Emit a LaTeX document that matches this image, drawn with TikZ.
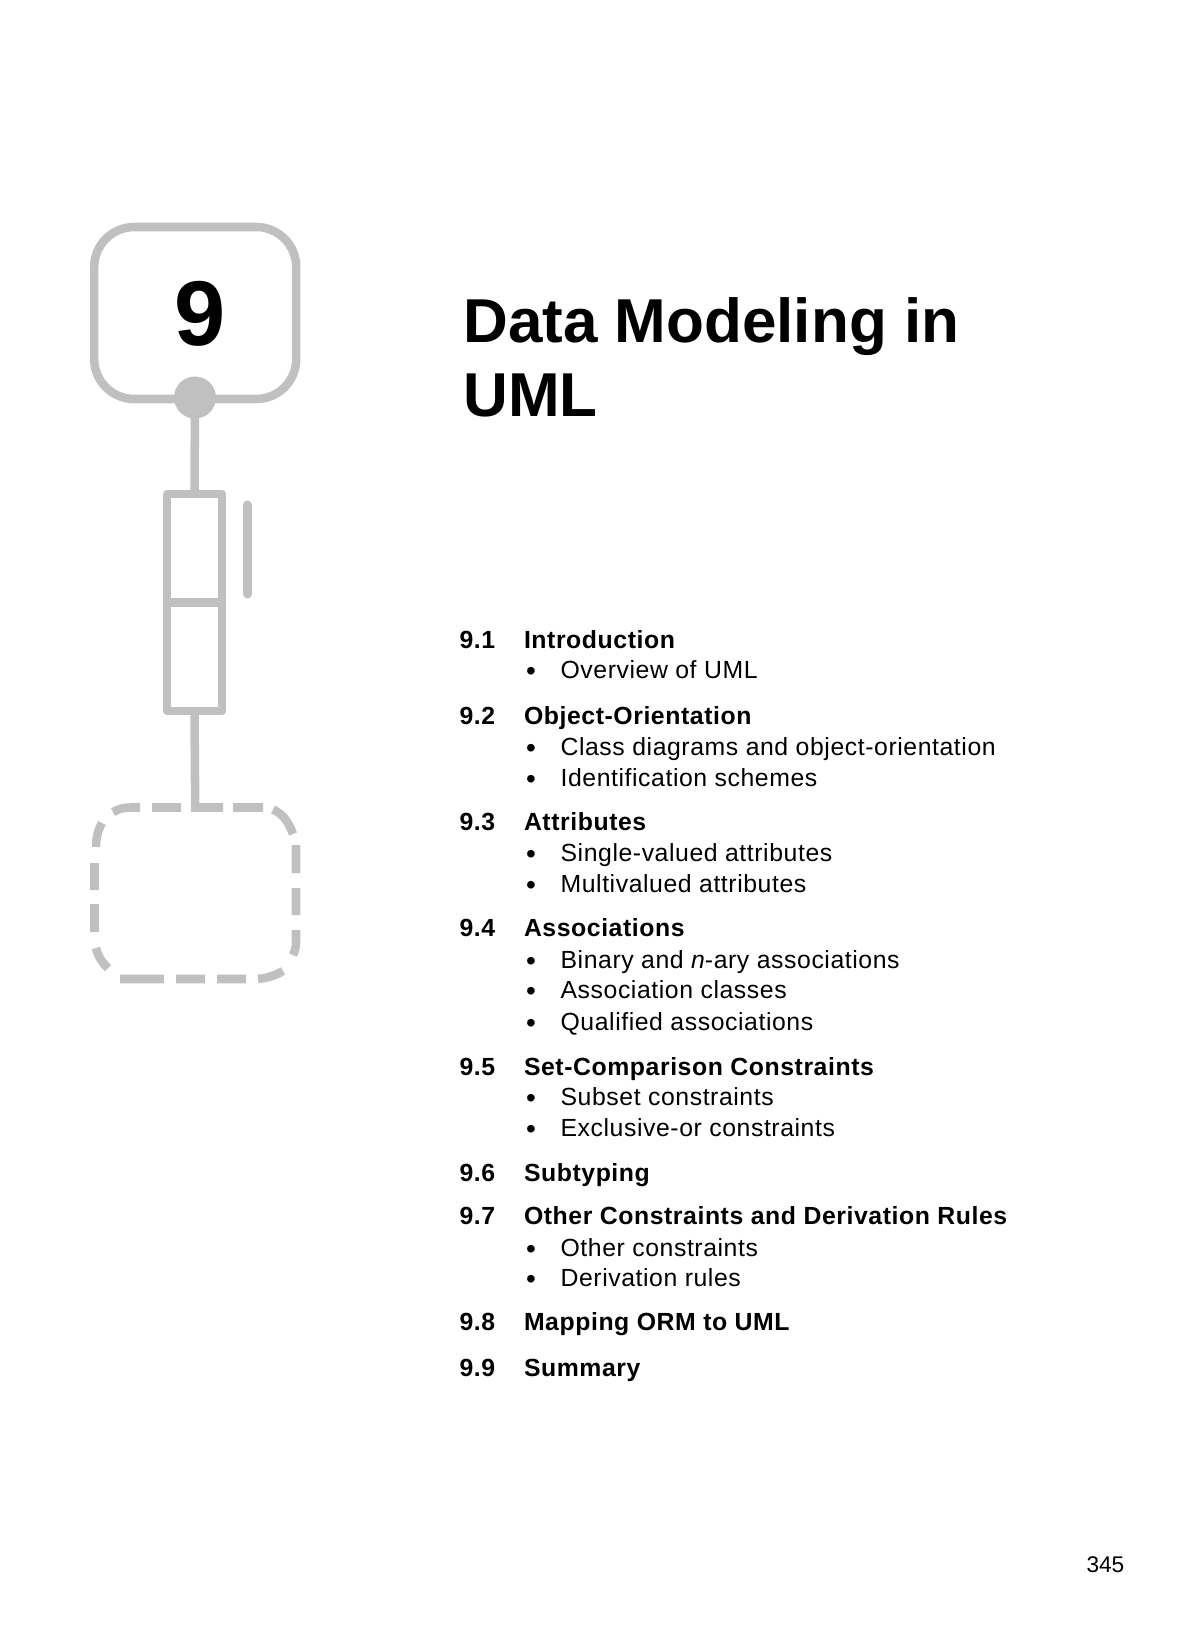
\documentclass[tikz,border=0pt]{standalone}
\usepackage{fontspec}
\setmainfont{Liberation Sans}
\newfontfamily\spaced[LetterSpace=2.3]{Liberation Sans}
\definecolor{shade}{RGB}{192,192,192}
\tikzset{
 boxline/.style={draw=shade,line width=6.4pt},
 txt/.style={anchor=base west,inner sep=0pt,outer sep=0pt,text=black},
 secnum/.style={txt,yshift=0.4pt,font=\spaced\fontsize{18.6}{20}\selectfont\bfseries},
 sectitle/.style={txt,yshift=0.4pt,font=\spaced\fontsize{18.6}{20}\selectfont\bfseries},
 item/.style={txt,yshift=0.4pt,font=\spaced\fontsize{18.6}{20}\selectfont},
 bull/.style={txt,yshift=-1.2pt,font=\fontsize{21}{23}\selectfont},
 headtxt/.style={txt,yshift=0.2pt,font=\fontsize{46.5}{50}\selectfont\bfseries},
}
\begin{document}
\begin{tikzpicture}[x=0.75pt,y=-0.75pt]
\useasboundingbox (0,0) rectangle (1200,1649);
% emblem
\node[boxline,rounded corners=30pt,minimum width=151.5pt,minimum height=129pt,inner sep=0pt,outer sep=0pt] (top) at (195.2,313) {};
\node[circle,fill=shade,minimum size=31.5pt,inner sep=0pt] (dot) at (195,397.5) {};
\node[boxline,minimum width=41.3pt,minimum height=162.8pt,inner sep=0pt,outer sep=0pt,line join=round] (cls) at (194.5,602.5) {};
\coordinate (divL) at (cls.west);
\coordinate (divR) at (cls.east);
\draw[boxline] (divL) -- (divR);
\coordinate (barA) at (247.5,505);
\coordinate (barB) at (247.5,594);
\draw[draw=shade,line width=6.8pt,line cap=round] (barA) -- (barB);
\node[minimum width=151.5pt,minimum height=128.6pt,inner sep=0pt,outer sep=0pt] (low) at (195.2,893.2) {};
% dashed box, dash by dash
\draw[boxline]
 (113,812) .. controls (118,809) and (124,807.5) .. (130,807.5) -- (140,807.5)
 (152,807.5) -- (181,807.5)
 (191,807.5) -- (223,807.5)
 (233,807.5) -- (263,807.5)
 (273,809.5) .. controls (281,813) and (288,820) .. (293,834)
 (296,845) -- (296,873)
 (296,888) -- (296,915)
 (296,930) -- (296,942) .. controls (296,947) and (295,951) .. (293,955)
 (283,971) .. controls (276,975) and (268,978) .. (258,979)
 (246,979) -- (217,979)
 (205,979) -- (176,979)
 (164,979) -- (120,979)
 (108,968) .. controls (102,963) and (98,956) .. (96,948)
 (94.5,932) -- (94.5,904)
 (94.5,890) -- (94.5,863)
 (96,847) .. controls (96,838) and (98,830) .. (102,823);
\draw[boxline] (dot.center) -- (cls.north);
\draw[boxline] (cls.south) -- (low.north);
\node[anchor=base,inner sep=0pt,font=\fontsize{69}{72}\selectfont\bfseries] (nine) at (200.5,345) {9};
% title
\node[headtxt] (h1) at (463.3,343) {Data Modeling in};
\node[headtxt] (h2) at (463.3,416.5) {UML};
% sections
\node[secnum] (n1) at (459.6,649) {9.1};
\node[sectitle] (s1) at (524,649) {Introduction};
\node[bull] (b1a) at (526,679) {•};
\node[item] (i1a) at (560.6,679) {Overview of UML};
\node[secnum] (n2) at (459.6,724.6) {9.2};
\node[sectitle] (s2) at (524,724.6) {Object-Orientation};
\node[bull] (b2a) at (526,756) {•};
\node[item] (i2a) at (560.6,756) {Class diagrams and object-orientation};
\node[bull] (b2b) at (526,786.6) {•};
\node[item] (i2b) at (560.6,786.6) {Identification schemes};
\node[secnum] (n3) at (459.6,831) {9.3};
\node[sectitle] (s3) at (524,831) {Attributes};
\node[bull] (b3a) at (526,862) {•};
\node[item] (i3a) at (560.6,862) {Single-valued attributes};
\node[bull] (b3b) at (526,893) {•};
\node[item] (i3b) at (560.6,893) {Multivalued attributes};
\node[secnum] (n4) at (459.6,937) {9.4};
\node[sectitle] (s4) at (524,937) {Associations};
\node[bull] (b4a) at (526,969) {•};
\node[item] (i4a) at (560.6,969) {Binary and {\itshape n}-ary associations};
\node[bull] (b4b) at (526,999) {•};
\node[item] (i4b) at (560.6,999) {Association classes};
\node[bull] (b4c) at (526,1031) {•};
\node[item] (i4c) at (560.6,1031) {Qualified associations};
\node[secnum] (n5) at (459.6,1076) {9.5};
\node[sectitle] (s5) at (524,1076) {Set-Comparison Constraints};
\node[bull] (b5a) at (526,1106) {•};
\node[item] (i5a) at (560.6,1106) {Subset constraints};
\node[bull] (b5b) at (526,1137) {•};
\node[item] (i5b) at (560.6,1137) {Exclusive-or constraints};
\node[secnum] (n6) at (459.6,1182) {9.6};
\node[sectitle] (s6) at (524,1182) {Subtyping};
\node[secnum] (n7) at (459.6,1225) {9.7};
\node[sectitle] (s7) at (524,1225) {Other Constraints and Derivation Rules};
\node[bull] (b7a) at (526,1257) {•};
\node[item] (i7a) at (560.6,1257) {Other constraints};
\node[bull] (b7b) at (526,1287) {•};
\node[item] (i7b) at (560.6,1287) {Derivation rules};
\node[secnum] (n8) at (459.6,1331) {9.8};
\node[sectitle] (s8) at (524,1331) {Mapping ORM to UML};
\node[secnum] (n9) at (459.6,1377) {9.9};
\node[sectitle] (s9) at (524,1377) {Summary};
\node[txt,font=\fontsize{17}{20}\selectfont] (pg) at (1086.5,1572) {345};
\end{tikzpicture}
\end{document}
